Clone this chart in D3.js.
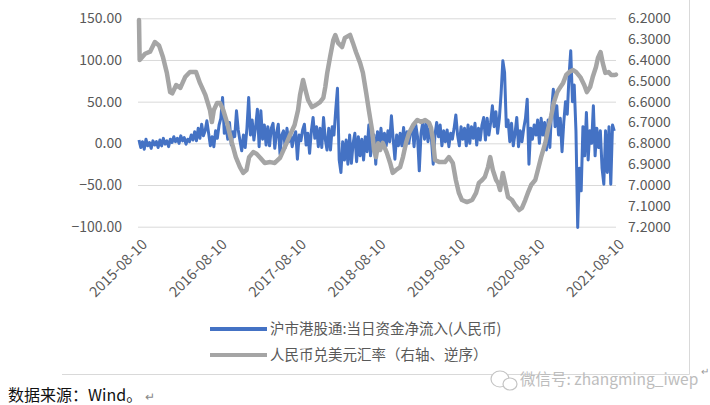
<!DOCTYPE html>
<html>
<head>
<meta charset="utf-8">
<script src="https://cdn.jsdelivr.net/npm/d3@7"></script>
<style>
  body { margin: 0; background: #fff; }
  svg text { font-family: "Noto Sans CJK SC", "Noto Sans", sans-serif; }
</style>
</head>
<body>
<svg id="chart" width="710" height="405"></svg>
<script>
// 沪市港股通 daily net inflow, one reading every 8 days from 2015-08-10
const flowStart = "2015-08-10"
const flowStepDays = 8
const flowValues = [
    4, -5, 2, -7, 5, -3, 1, -6, 3, -2,
    2, -5, 4, -3, 6, -1, 3, -4, 5, 1,
    8, 2, 6, 0, 9, 3, 7, -1, 5, 2,
    10, 4, 14, 3, 18, 6, 23, 9, 15, 27,
    12, -3, 8, -4, 15, 6, 22, 30, 55, 12,
    20, 5, 25, -2, 14, 8, 39, 16, 3, -9,
    10, -5, 18, 55, 10, 28, 4, 20, 41, -4,
    39, 5, 22, -2, 20, -3, 18, 24, -6, 12,
    23, -13, 10, 15, -5, 18, 2, 12, -4, 8,
    14, -19, 10, 3, 16, 23, -2, 12, -12, 15,
    31, 6, 20, -4, 18, -5, 31, 5, -8, 18,
    -8, 20, 10, 40, 66, -20, -35, 2, -20, 4,
    -25, 10, -24, 0, 12, -22, 8, -15, 5, -20,
    8, -10, 22, -15, 5, 10, -25, 14, -3, 18,
    -5, 12, -3, 15, 2, 33, 5, -19, 10, -3,
    12, -3, 19, -6, 14, 0, 15, 20, -4, 22,
    8, -33, 12, 25, 5, 24, 2, 18, 5, -25,
    10, 25, 8, 22, -3, 15, 2, 16, -4, 12,
    5, 18, 34, 10, -3, 20, 5, 18, -3, 22,
    0, 20, 6, 24, -2, 18, 4, 22, 31, 4,
    30, 10, 25, 45, 20, 38, 12, 30, 60, 99,
    85, 20, 28, 2, 24, -3, 12, 31, -4, 15,
    2, 18, 30, 53, -25, 18, 5, 22, 10, 28,
    0, 30, 10, 25, -8, 28, -5, 40, 65, 20,
    45, 10, 30, -10, 25, 50, 35, 80, 111, 50,
    70, 15, -101, -30, -57, 20, -15, 37, -20, 15,
    0, 45, -15, 18, -5, 15, -30, -49, 15, -35,
    20, -49, 22, 15
]

// 人民币兑美元汇率
const fxDates = [
    "2015-08-10", "2015-08-13", "2015-09-07", "2015-09-30", "2015-10-22", "2015-11-10", "2015-11-28",
    "2015-12-16", "2015-12-31", "2016-01-10", "2016-01-28", "2016-02-16", "2016-03-09", "2016-03-31",
    "2016-04-28", "2016-05-16", "2016-06-10", "2016-07-01", "2016-07-10", "2016-07-19", "2016-08-03",
    "2016-08-16", "2016-08-31", "2016-09-18", "2016-10-10", "2016-10-28", "2016-11-16", "2016-12-01",
    "2016-12-16", "2016-12-28", "2017-01-16", "2017-01-31", "2017-02-18", "2017-03-10", "2017-04-04",
    "2017-04-25", "2017-05-19", "2017-06-10", "2017-07-04", "2017-07-25", "2017-08-10", "2017-08-19",
    "2017-09-02", "2017-09-13", "2017-09-25", "2017-10-13", "2017-10-31", "2017-11-19", "2017-12-04",
    "2017-12-13", "2017-12-22", "2018-01-04", "2018-01-19", "2018-01-28", "2018-02-10", "2018-02-28",
    "2018-03-13", "2018-04-06", "2018-04-19", "2018-05-03", "2018-05-22", "2018-06-04", "2018-06-19",
    "2018-07-01", "2018-07-16", "2018-07-25", "2018-08-03", "2018-08-13", "2018-08-22", "2018-09-03",
    "2018-09-22", "2018-10-07", "2018-10-19", "2018-11-03", "2018-11-22", "2018-12-05", "2018-12-19",
    "2019-01-02", "2019-01-21", "2019-02-09", "2019-02-27", "2019-03-17", "2019-04-04", "2019-04-13",
    "2019-04-22", "2019-05-01", "2019-05-22", "2019-06-16", "2019-07-04", "2019-07-22", "2019-08-05",
    "2019-08-19", "2019-09-02", "2019-09-25", "2019-10-19", "2019-11-06", "2019-11-19", "2019-12-04",
    "2019-12-16", "2019-12-31", "2020-01-10", "2020-01-22", "2020-02-06", "2020-02-15", "2020-02-24",
    "2020-03-08", "2020-03-18", "2020-04-01", "2020-04-19", "2020-05-03", "2020-05-22", "2020-06-04",
    "2020-06-19", "2020-07-01", "2020-07-16", "2020-08-04", "2020-08-16", "2020-08-31", "2020-09-19",
    "2020-10-01", "2020-10-16", "2020-10-28", "2020-11-13", "2020-11-25", "2020-12-10", "2020-12-24",
    "2021-01-07", "2021-01-25", "2021-02-08", "2021-02-27", "2021-03-17", "2021-03-29", "2021-04-13",
    "2021-04-25", "2021-05-10", "2021-05-19", "2021-05-31", "2021-06-10", "2021-06-22", "2021-07-07",
    "2021-07-19", "2021-08-05", "2021-08-10"
]
const fxRates = [
    6.208, 6.40, 6.37, 6.36, 6.314, 6.33, 6.386,
    6.462, 6.554, 6.56, 6.52, 6.534, 6.482, 6.458,
    6.458, 6.51, 6.568, 6.64, 6.698, 6.64, 6.606,
    6.606, 6.64, 6.702, 6.798, 6.866, 6.914, 6.942,
    6.928, 6.866, 6.842, 6.85, 6.87, 6.894, 6.89,
    6.894, 6.87, 6.818, 6.76, 6.712, 6.64, 6.568,
    6.496, 6.544, 6.592, 6.626, 6.616, 6.602, 6.582,
    6.53, 6.462, 6.386, 6.304, 6.28, 6.318, 6.338,
    6.294, 6.28, 6.318, 6.362, 6.414, 6.462, 6.558,
    6.64, 6.736, 6.832, 6.866, 6.80, 6.832, 6.798,
    6.846, 6.894, 6.942, 6.928, 6.914, 6.866, 6.798,
    6.75, 6.712, 6.688, 6.698, 6.688, 6.702, 6.726,
    6.784, 6.88, 6.89, 6.89, 6.866, 6.894, 6.976,
    7.038, 7.072, 7.082, 7.072, 7.038, 6.99, 6.976,
    6.962, 6.914, 6.866, 6.928, 6.976, 6.99, 7.024,
    6.942, 6.99, 7.058, 7.072, 7.096, 7.12, 7.11,
    7.072, 7.038, 7.0, 6.976, 6.928, 6.866, 6.798,
    6.736, 6.67, 6.606, 6.554, 6.534, 6.51, 6.472,
    6.458, 6.448, 6.458, 6.482, 6.52, 6.554, 6.53,
    6.482, 6.434, 6.39, 6.362, 6.414, 6.462, 6.458,
    6.472, 6.472, 6.47
]

const leftTicks = [150, 100, 50, 0, -50, -100]
const rightTicks = [6.2, 6.3, 6.4, 6.5, 6.6, 6.7, 6.8, 6.9, 7.0, 7.1, 7.2]
const xTickDates = ["2015-08-10", "2016-08-10", "2017-08-10", "2018-08-10", "2019-08-10", "2020-08-10", "2021-08-10"]

const seriesNames = ["沪市港股通:当日资金净流入(人民币)", "人民币兑美元汇率（右轴、逆序）"]
const seriesColors = ["#4472C4", "#A5A5A5"]

let parse = d3.timeParse("%Y-%m-%d")
let svg = d3.select("#chart")

let plotLeft = 138, plotRight = 616, plotTop = 18.3, plotBottom = 226.7
let textColor = "#595959"

// chart frame (right and bottom edges show)
svg.append("path")
    .attr("d", "M62,374.5 H689.5 V-2")
    .attr("fill", "none").attr("stroke", "#D9D9D9")

let xScale = d3.scaleTime()
    .domain([parse("2015-08-10"), parse("2021-08-10")])
    .range([139, 616])
let yLeft = d3.scaleLinear().domain([-100, 150]).range([plotBottom, plotTop])
let yRight = d3.scaleLinear().domain([6.2, 7.2]).range([plotTop, plotBottom]) // reversed

// gridlines
svg.append("g")
    .attr("transform", "translate(" + plotLeft + ",0)")
    .call(d3.axisLeft(yLeft).tickValues(leftTicks).tickSize(-(plotRight - plotLeft)).tickFormat(""))
    .call(g => g.select(".domain").remove())
    .selectAll("line").attr("stroke", "#D9D9D9")

// left axis
let gl = svg.append("g")
    .attr("transform", "translate(128,0)")
    .call(d3.axisLeft(yLeft).tickValues(leftTicks).tickSize(0).tickPadding(6).tickFormat(d3.format(".2f")))
gl.select(".domain").remove()
gl.selectAll("text").attr("fill", textColor).style("font-size", "14px")

// right axis
let gr = svg.append("g")
    .attr("transform", "translate(622,0)")
    .call(d3.axisRight(yRight).tickValues(rightTicks).tickSize(0).tickPadding(6).tickFormat(d3.format(".4f")))
gr.select(".domain").remove()
gr.selectAll("text").attr("fill", textColor).style("font-size", "14px")

// x axis, rotated labels
let gx = svg.append("g")
    .attr("transform", "translate(0," + plotBottom + ")")
    .call(d3.axisBottom(xScale).tickValues(xTickDates.map(parse)).tickSize(0).tickFormat(d3.timeFormat("%Y-%m-%d")))
gx.select(".domain").remove()
gx.selectAll("text")
    .attr("fill", textColor)
    .style("font-size", "14.5px")
    .attr("text-anchor", "end")
    .attr("dy", "0.35em")
    .attr("transform", "translate(3,13) rotate(-45)")

// blue series
let flowData = flowValues.map((v, i) => ({
    date: d3.timeDay.offset(parse(flowStart), i * flowStepDays),
    value: v
}))
let flowLine = d3.line()
    .x(d => xScale(d.date))
    .y(d => yLeft(d.value))
svg.append("path")
    .datum(flowData)
    .attr("d", flowLine)
    .attr("fill", "none")
    .attr("stroke", seriesColors[0])
    .attr("stroke-width", 3)
    .attr("stroke-linejoin", "round")

// gray series (secondary axis, drawn on top)
let fxData = fxDates.map((d, i) => ({ date: parse(d), value: fxRates[i] }))
let fxLine = d3.line()
    .x(d => xScale(d.date))
    .y(d => yRight(d.value))
svg.append("path")
    .datum(fxData)
    .attr("d", fxLine)
    .attr("fill", "none")
    .attr("stroke", seriesColors[1])
    .attr("stroke-width", 4.5)
    .attr("stroke-linejoin", "round")
    .attr("stroke-linecap", "round")

// legend
let legend = svg.append("g")
seriesNames.forEach((name, i) => {
    let ly = 329 + i * 26
    legend.append("line")
        .attr("x1", 210).attr("x2", 267)
        .attr("y1", ly).attr("y2", ly)
        .attr("stroke", seriesColors[i])
        .attr("stroke-width", 4)
    legend.append("text")
        .attr("x", 270).attr("y", ly)
        .attr("dy", "0.36em")
        .attr("fill", textColor)
        .style("font-size", "14.5px")
        .text(name)
})

// source note
let note = svg.append("text")
    .attr("x", 8).attr("y", 401)
    .attr("fill", "#111")
    .style("font-size", "16px")
note.append("tspan").text("数据来源：Wind。")
note.append("tspan").attr("fill", "#888").style("font-size", "12px").attr("dx", 3).text("↵")

// watermark
let wm = svg.append("g")
wm.append("ellipse").attr("cx", 500).attr("cy", 379).attr("rx", 9).attr("ry", 8)
    .attr("fill", "#fff").attr("stroke", "#c4c4c4").attr("stroke-width", 1.2)
wm.append("ellipse").attr("cx", 510).attr("cy", 384).attr("rx", 7).attr("ry", 6)
    .attr("fill", "#fff").attr("stroke", "#c4c4c4").attr("stroke-width", 1.2)
wm.append("text")
    .attr("x", 520).attr("y", 385)
    .attr("fill", "#bdbdbd")
    .style("font-size", "15.5px")
    .text("微信号: zhangming_iwep")
wm.append("text")
    .attr("x", 701).attr("y", 375)
    .attr("fill", "#999")
    .style("font-size", "10px")
    .text("↵")
</script>
</body>
</html>
